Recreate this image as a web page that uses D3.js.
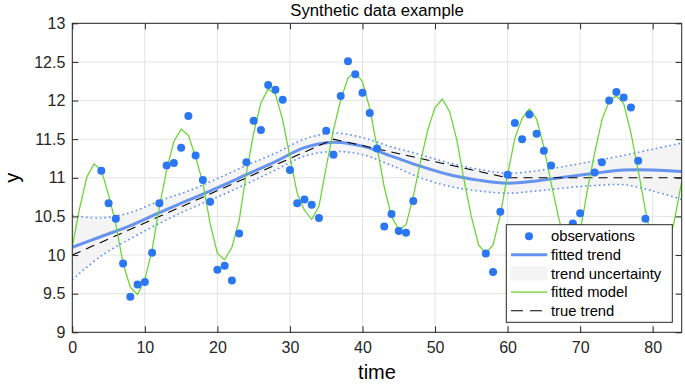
<!DOCTYPE html>
<html>
<head>
<meta charset="utf-8">
<script src="https://cdn.jsdelivr.net/npm/d3@7"></script>
<style>
  body { margin: 0; background: #fff; }
  svg { font-family: "Liberation Sans", Arial, Helvetica, sans-serif; }
</style>
</head>
<body>
<svg id="chart" width="685" height="387"></svg>
<script>
// observations (time, y)
let obsTime = [4, 5, 6, 7, 8, 9, 10, 11, 12, 13, 14, 15, 16, 17, 18, 19, 20, 21, 22, 23,
    24, 25, 26, 27, 28, 29, 30, 31, 32, 33, 34, 35, 36, 37, 38, 39, 40, 41, 42, 43,
    44, 45, 46, 47, 57, 58, 59, 60, 61, 62, 63, 64, 65, 66, 69, 70, 72, 73, 74, 75,
    76, 77, 78, 79];
let obsValue = [11.09, 10.67, 10.47, 9.89, 9.46, 9.62, 9.65, 10.03, 10.67, 11.16, 11.19, 11.39,
    11.80, 11.29, 10.97, 10.69, 9.81, 9.86, 9.67, 10.28, 11.20, 11.74, 11.62, 12.20,
    12.14, 12.01, 11.10, 10.67, 10.72, 10.65, 10.48, 11.61, 11.30, 12.06, 12.51, 12.34,
    12.10, 11.84, 11.38, 10.37, 10.53, 10.31, 10.29, 10.70, 10.02, 9.78, 10.56, 11.04,
    11.71, 11.50, 11.82, 11.57, 11.35, 11.16, 10.41, 10.54, 11.07, 11.20, 12.00, 12.11,
    12.04, 11.91, 11.22, 10.47];

// fitted model at t = 0..84
let modelValue = [10.11, 10.60, 11.01, 11.18, 11.10, 10.78, 10.40, 9.89, 9.58, 9.49,
    9.68, 10.07, 10.62, 11.10, 11.47, 11.63, 11.55, 11.27, 10.93, 10.41,
    10.02, 9.94, 10.10, 10.45, 11.06, 11.58, 11.97, 12.15, 12.08, 11.75,
    11.27, 10.80, 10.58, 10.46, 10.63, 11.14, 11.62, 12.01, 12.29, 12.37,
    12.24, 11.90, 11.40, 10.88, 10.50, 10.33, 10.39, 10.76, 11.21, 11.62,
    11.91, 12.02, 11.86, 11.49, 10.97, 10.50, 10.13, 10.02, 10.13, 10.52,
    11.04, 11.51, 11.77, 11.89, 11.76, 11.40, 10.93, 10.50, 10.12, 9.98,
    10.30, 10.84, 11.32, 11.75, 11.99, 12.06, 11.96, 11.58, 11.10, 10.58,
    10.12, 9.96, 10.08, 10.45, 10.95];

// fitted trend and its uncertainty band
let trendTime = [0, 4, 8, 12, 16, 20, 24, 28, 32, 36, 40, 44, 48, 52, 56, 60, 64, 68, 72, 76, 80, 84];
let trendValue = [10.10, 10.24, 10.38, 10.55, 10.71, 10.87, 11.04, 11.21, 11.39, 11.46, 11.41,
    11.28, 11.15, 11.04, 10.97, 10.93, 10.96, 11.01, 11.06, 11.10, 11.10, 11.08];
let trendUpper = [10.51, 10.48, 10.55, 10.70, 10.83, 10.99, 11.16, 11.32, 11.50, 11.58, 11.52,
    11.40, 11.30, 11.19, 11.11, 11.06, 11.09, 11.15, 11.22, 11.29, 11.37, 11.45];
let trendLower = [9.68, 9.99, 10.21, 10.41, 10.59, 10.75, 10.92, 11.10, 11.28, 11.34, 11.30,
    11.16, 11.00, 10.89, 10.83, 10.80, 10.83, 10.87, 10.90, 10.91, 10.83, 10.72];

// true trend
let trueTime = [0, 36, 60, 84];
let trueValue = [10, 11.5, 11, 11];

let xTicks = [0, 10, 20, 30, 40, 50, 60, 70, 80];
let yTicks = [9, 9.5, 10, 10.5, 11, 11.5, 12, 12.5, 13];

let legendLabels = ["observations", "fitted trend", "trend uncertainty", "fitted model", "true trend"];

let colors = {
    obs: "#2b77f3",
    trend: "#6693ee",
    band: "#f4f4f4",
    bound: "#5b8ff5",
    model: "#63d42a",
    truth: "#000000",
    axis: "#262626",
    grid: "#e3e3e3",
};

let margin = { left: 72.3, right: 3.3, top: 23.3, bottom: 54.7 };
let width = 685 - margin.left - margin.right;
let height = 387 - margin.top - margin.bottom;

let svg = d3.select("#chart");
let g = svg.append("g").attr("transform", `translate(${margin.left},${margin.top})`);

let x = d3.scaleLinear().domain([0, 84]).range([0, width]);
let y = d3.scaleLinear().domain([9, 13]).range([height, 0]);

g.append("defs").append("clipPath").attr("id", "clip")
    .append("rect").attr("width", width).attr("height", height);

// grid
g.append("g").selectAll("line").data(xTicks).enter().append("line")
    .attr("x1", (d) => x(d)).attr("x2", (d) => x(d))
    .attr("y1", 0).attr("y2", height)
    .attr("stroke", colors.grid);
g.append("g").selectAll("line").data(yTicks).enter().append("line")
    .attr("y1", (d) => y(d)).attr("y2", (d) => y(d))
    .attr("x1", 0).attr("x2", width)
    .attr("stroke", colors.grid);

let plot = g.append("g").attr("clip-path", "url(#clip)");

let band = trendTime.map((t, i) => ({ t: t, lo: trendLower[i], hi: trendUpper[i], v: trendValue[i] }));

plot.append("path")
    .datum(band)
    .attr("fill", colors.band)
    .attr("d", d3.area().curve(d3.curveCatmullRom)
        .x((d) => x(d.t)).y0((d) => y(d.lo)).y1((d) => y(d.hi)));

["lo", "hi"].forEach((key) => {
    plot.append("path")
        .datum(band)
        .attr("fill", "none")
        .attr("stroke", colors.bound)
        .attr("stroke-width", 1.6)
        .attr("stroke-dasharray", "1.6,3")
        .attr("d", d3.line().curve(d3.curveCatmullRom).x((d) => x(d.t)).y((d) => y(d[key])));
});

plot.append("path")
    .datum(band)
    .attr("fill", "none")
    .attr("stroke", colors.trend)
    .attr("stroke-width", 3)
    .attr("d", d3.line().curve(d3.curveCatmullRom).x((d) => x(d.t)).y((d) => y(d.v)));

plot.append("path")
    .datum(trueTime.map((t, i) => [t, trueValue[i]]))
    .attr("fill", "none")
    .attr("stroke", colors.truth)
    .attr("stroke-width", 1.1)
    .attr("stroke-dasharray", "9,6")
    .attr("d", d3.line().x((d) => x(d[0])).y((d) => y(d[1])));

plot.append("path")
    .datum(modelValue)
    .attr("fill", "none")
    .attr("stroke", colors.model)
    .attr("stroke-width", 1.2)
    .attr("d", d3.line().x((d, i) => x(i)).y((d) => y(d)));

plot.append("g").selectAll("circle")
    .data(obsTime)
    .enter()
    .append("circle")
    .attr("cx", (d) => x(d))
    .attr("cy", (d, i) => y(obsValue[i]))
    .attr("r", 4)
    .attr("fill", colors.obs);

// axes (ticks inside, box on)
function styleAxis(sel) {
    sel.select(".domain").remove();
    sel.selectAll("line").attr("stroke", colors.axis);
    sel.selectAll("text").attr("fill", colors.axis).style("font-size", "16px")
        .style("font-family", '"Liberation Sans", Arial, sans-serif');
}

g.append("g").attr("transform", `translate(0,${height})`)
    .call(d3.axisBottom(x).tickValues(xTicks).tickSize(-6).tickPadding(9).tickFormat((d) => d))
    .call(styleAxis);
g.append("g")
    .call(d3.axisTop(x).tickValues(xTicks).tickSize(-6).tickFormat(""))
    .call(styleAxis);
g.append("g")
    .call(d3.axisLeft(y).tickValues(yTicks).tickSize(-6).tickPadding(7).tickFormat((d) => d))
    .call(styleAxis);
g.append("g").attr("transform", `translate(${width},0)`)
    .call(d3.axisRight(y).tickValues(yTicks).tickSize(-6).tickFormat(""))
    .call(styleAxis);

g.append("rect")
    .attr("width", width).attr("height", height)
    .attr("fill", "none").attr("stroke", colors.axis).attr("stroke-width", 1);

// labels
svg.append("text")
    .attr("x", margin.left + width / 2).attr("y", 16)
    .attr("text-anchor", "middle")
    .style("font-size", "16.7px")
    .attr("fill", "#000")
    .text("Synthetic data example");

svg.append("text")
    .attr("x", margin.left + width / 2).attr("y", 379)
    .attr("text-anchor", "middle")
    .style("font-size", "20px")
    .attr("fill", "#000")
    .text("time");

svg.append("text")
    .attr("transform", `translate(19,${margin.top + height / 2}) rotate(-90)`)
    .attr("text-anchor", "middle")
    .style("font-size", "20px")
    .attr("fill", "#000")
    .text("y");

// legend
let legend = svg.append("g").attr("transform", "translate(506.3,224.7)");
legend.append("rect")
    .attr("width", 166).attr("height", 97.6)
    .attr("fill", "#fff").attr("stroke", colors.axis).attr("stroke-width", 1);

let rowY = d3.scalePoint().domain(legendLabels).range([11.5, 86]);

legend.selectAll("text.lab")
    .data(legendLabels)
    .enter()
    .append("text")
    .attr("class", "lab")
    .attr("x", 44.7)
    .attr("y", (d) => rowY(d))
    .attr("dy", "0.35em")
    .style("font-size", "14.8px")
    .attr("fill", "#000")
    .text((d) => d);

legend.append("circle").attr("cx", 22.7).attr("cy", rowY(legendLabels[0])).attr("r", 4).attr("fill", colors.obs);
legend.append("line")
    .attr("x1", 4.7).attr("x2", 41).attr("y1", rowY(legendLabels[1])).attr("y2", rowY(legendLabels[1]))
    .attr("stroke", colors.trend).attr("stroke-width", 3);
legend.append("rect")
    .attr("x", 4.7).attr("width", 36.3)
    .attr("y", rowY(legendLabels[2]) - 7).attr("height", 14)
    .attr("fill", colors.band);
legend.append("line")
    .attr("x1", 4.7).attr("x2", 41).attr("y1", rowY(legendLabels[3])).attr("y2", rowY(legendLabels[3]))
    .attr("stroke", colors.model).attr("stroke-width", 1.2);
legend.append("line")
    .attr("x1", 4.7).attr("x2", 41).attr("y1", rowY(legendLabels[4])).attr("y2", rowY(legendLabels[4]))
    .attr("stroke", colors.truth).attr("stroke-width", 1.1).attr("stroke-dasharray", "12,7");
</script>
</body>
</html>
